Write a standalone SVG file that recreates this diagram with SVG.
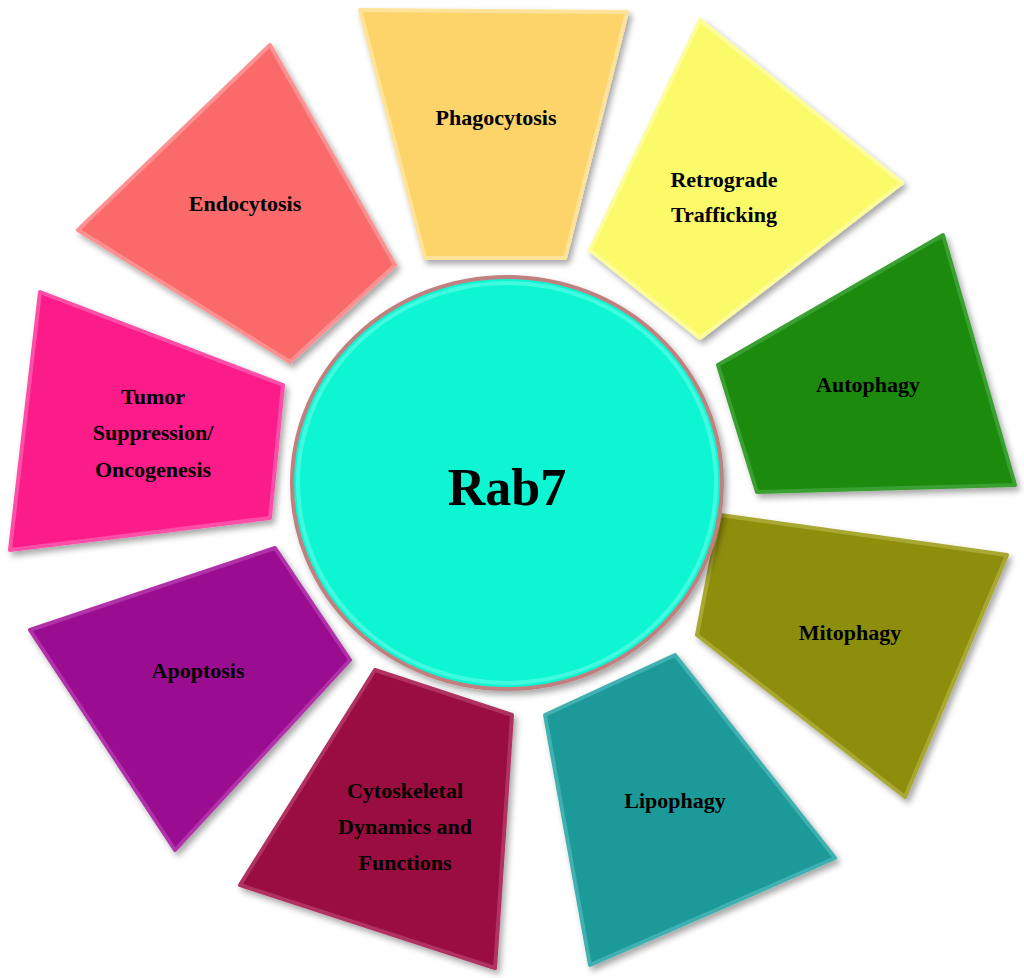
<svg xmlns="http://www.w3.org/2000/svg" width="1024" height="978" viewBox="0 0 1024 978">
<defs>
<filter id="sh" x="-10%" y="-10%" width="130%" height="130%"><feDropShadow dx="3" dy="4" stdDeviation="3" flood-color="#000" flood-opacity="0.35"/></filter>
</defs>
<style>
.s{filter:url(#sh);stroke-width:4;stroke-linejoin:round}
.t{font-family:"Liberation Serif",serif;font-weight:bold;font-size:22px;text-anchor:middle;fill:#000}
</style>
<rect width="1024" height="978" fill="#fff"/>
<g id="connectors"></g>
<g id="phagocytosis"><polygon class="s" points="360,10 627,12 565,258 425,258" fill="#fdd46a" stroke="#fee39a"/><text class="t" x="496" y="125">Phagocytosis</text></g>
<g id="retrograde"><polygon class="s" points="700,20 902,183 700,338 590,250" fill="#fbfb6a" stroke="#fdfd9a"/><text class="t" x="724" y="187">Retrograde</text><text class="t" x="724" y="222">Trafficking</text></g>
<g id="autophagy"><polygon class="s" points="943,235 1015,485 757,492 718,365" fill="#1a8a10" stroke="#3aa030"/><text class="t" x="868" y="392">Autophagy</text></g>
<g id="mitophagy"><polygon class="s" points="720,515 1007,555 905,797 697,635" fill="#8e8e10" stroke="#a8a830"/><text class="t" x="850" y="640">Mitophagy</text></g>
<g id="lipophagy"><polygon class="s" points="545,715 675,655 835,858 590,965" fill="#1a9a9a" stroke="#40b0b0"/><text class="t" x="675" y="808">Lipophagy</text></g>
<g id="cytoskeletal"><polygon class="s" points="375,670 512,715 495,968 240,885" fill="#9a0a40" stroke="#b03060"/><text class="t" x="405" y="798">Cytoskeletal</text><text class="t" x="405" y="834">Dynamics and</text><text class="t" x="405" y="870">Functions</text></g>
<g id="apoptosis"><polygon class="s" points="30,630 275,548 350,660 175,850" fill="#9a0a90" stroke="#b030a8"/><text class="t" x="198" y="678">Apoptosis</text></g>
<g id="tumor"><polygon class="s" points="40,292 283,385 270,518 10,550" fill="#fb1a8a" stroke="#fd50a8"/><text class="t" x="153" y="404">Tumor</text><text class="t" x="153" y="440">Suppression/</text><text class="t" x="153" y="477">Oncogenesis</text></g>
<g id="endocytosis"><polygon class="s" points="270,45 395,265 290,362 78,230" fill="#fb6a6a" stroke="#fd9090"/><text class="t" x="245" y="211">Endocytosis</text></g>
<g id="rab7"><ellipse class="s" cx="507" cy="483" rx="215" ry="206" fill="#10f5d2" stroke="#c08080" stroke-width="2"/><ellipse cx="507" cy="483" rx="209" ry="200" fill="none" stroke="#40fbe0" stroke-width="4"/><text x="507" y="505" font-family="Liberation Serif,serif" font-weight="bold" font-size="52" text-anchor="middle">Rab7</text></g>
</svg>
